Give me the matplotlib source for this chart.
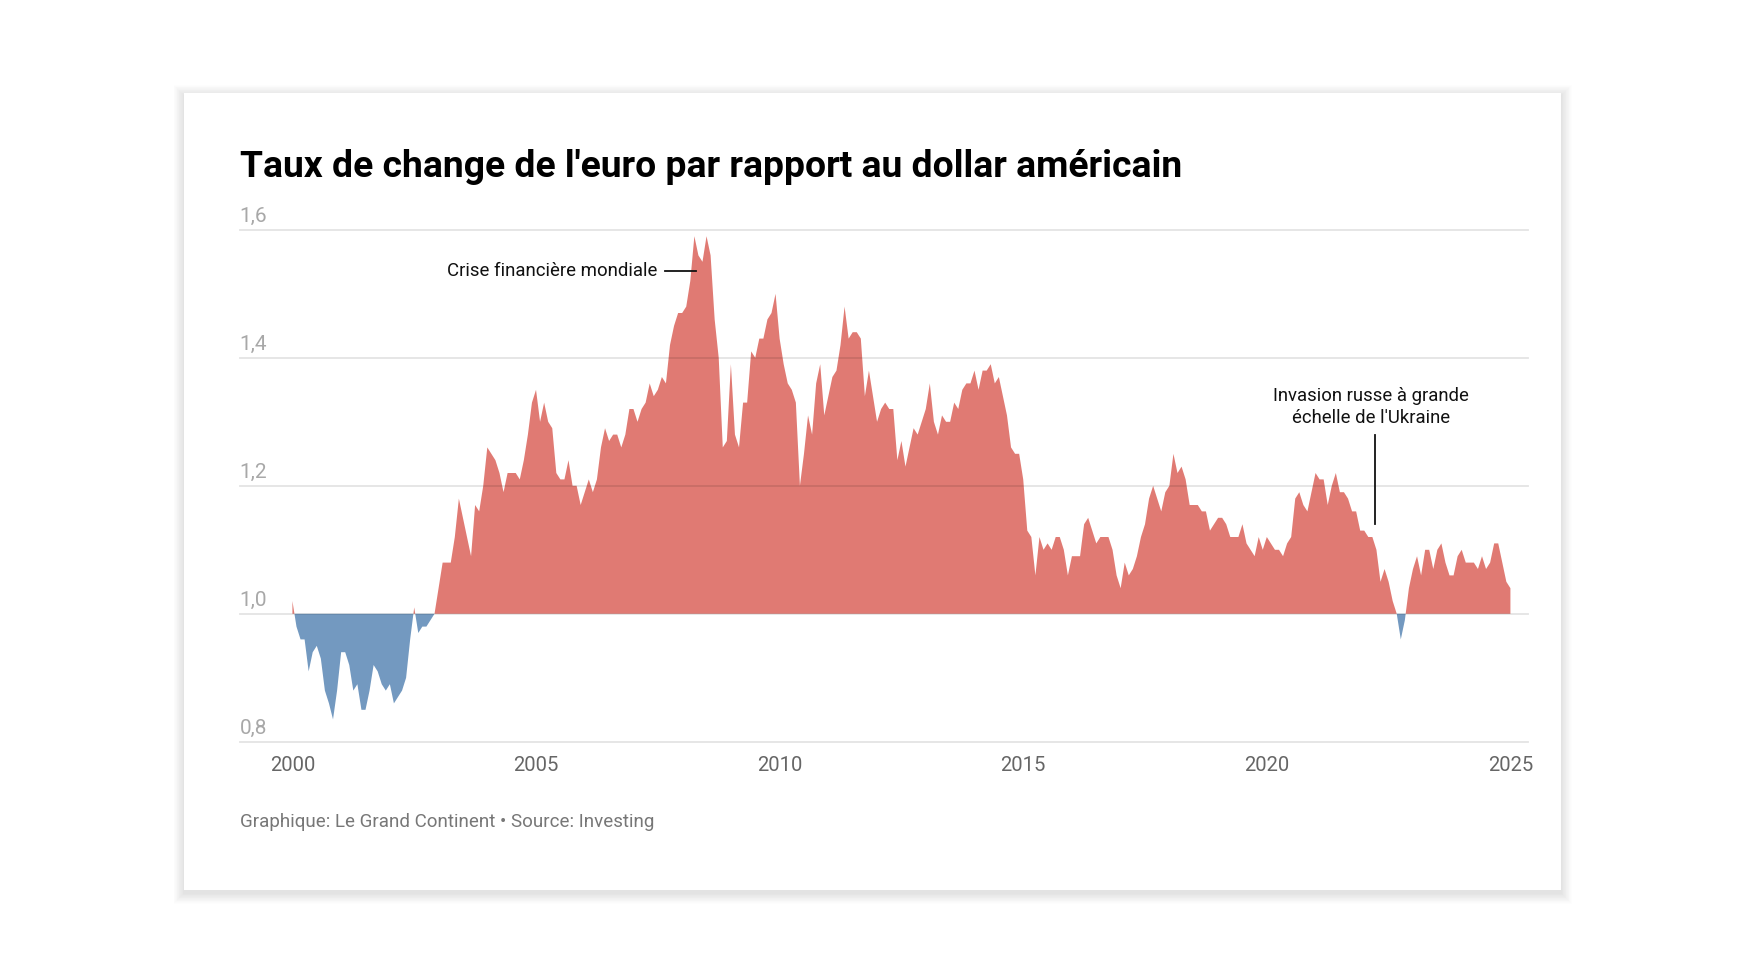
import numpy as np
import matplotlib.pyplot as plt
from matplotlib.patches import Rectangle

# Taux de change EUR/USD, valeur en début de mois (janv. 2000 -> janv. 2025)
rate_2000 = [1.02, 0.98, 0.96, 0.96, 0.91, 0.94, 0.95, 0.93, 0.88, 0.86, 0.835, 0.88]
rate_2001 = [0.94, 0.94, 0.92, 0.88, 0.89, 0.85, 0.85, 0.88, 0.92, 0.91, 0.89, 0.88]
rate_2002 = [0.89, 0.86, 0.87, 0.88, 0.90, 0.96, 1.01, 0.97, 0.98, 0.98, 0.99, 1.00]
rate_2003 = [1.04, 1.08, 1.08, 1.08, 1.12, 1.18, 1.15, 1.12, 1.09, 1.17, 1.16, 1.20]
rate_2004 = [1.26, 1.25, 1.24, 1.22, 1.19, 1.22, 1.22, 1.22, 1.21, 1.24, 1.28, 1.33]
rate_2005 = [1.35, 1.30, 1.33, 1.30, 1.29, 1.22, 1.21, 1.21, 1.24, 1.20, 1.20, 1.17]
rate_2006 = [1.19, 1.21, 1.19, 1.21, 1.26, 1.29, 1.27, 1.28, 1.28, 1.26, 1.28, 1.32]
rate_2007 = [1.32, 1.30, 1.32, 1.33, 1.36, 1.34, 1.35, 1.37, 1.36, 1.42, 1.45, 1.47]
rate_2008 = [1.47, 1.48, 1.52, 1.59, 1.56, 1.55, 1.59, 1.56, 1.46, 1.40, 1.26, 1.27]
rate_2009 = [1.39, 1.28, 1.26, 1.33, 1.33, 1.41, 1.40, 1.43, 1.43, 1.46, 1.47, 1.50]
rate_2010 = [1.43, 1.39, 1.36, 1.35, 1.33, 1.20, 1.25, 1.31, 1.28, 1.36, 1.39, 1.31]
rate_2011 = [1.34, 1.37, 1.38, 1.42, 1.48, 1.43, 1.44, 1.44, 1.43, 1.34, 1.38, 1.34]
rate_2012 = [1.30, 1.32, 1.33, 1.32, 1.32, 1.24, 1.27, 1.23, 1.26, 1.29, 1.28, 1.30]
rate_2013 = [1.32, 1.36, 1.30, 1.28, 1.31, 1.30, 1.30, 1.33, 1.32, 1.35, 1.36, 1.36]
rate_2014 = [1.38, 1.35, 1.38, 1.38, 1.39, 1.36, 1.37, 1.34, 1.31, 1.26, 1.25, 1.25]
rate_2015 = [1.21, 1.13, 1.12, 1.06, 1.12, 1.10, 1.11, 1.10, 1.12, 1.12, 1.10, 1.06]
rate_2016 = [1.09, 1.09, 1.09, 1.14, 1.15, 1.13, 1.11, 1.12, 1.12, 1.12, 1.10, 1.06]
rate_2017 = [1.04, 1.08, 1.06, 1.07, 1.09, 1.12, 1.14, 1.18, 1.20, 1.18, 1.16, 1.19]
rate_2018 = [1.20, 1.25, 1.22, 1.23, 1.21, 1.17, 1.17, 1.17, 1.16, 1.16, 1.13, 1.14]
rate_2019 = [1.15, 1.15, 1.14, 1.12, 1.12, 1.12, 1.14, 1.11, 1.10, 1.09, 1.12, 1.10]
rate_2020 = [1.12, 1.11, 1.10, 1.10, 1.09, 1.11, 1.12, 1.18, 1.19, 1.17, 1.16, 1.19]
rate_2021 = [1.22, 1.21, 1.21, 1.17, 1.20, 1.22, 1.19, 1.19, 1.18, 1.16, 1.16, 1.13]
rate_2022 = [1.13, 1.12, 1.12, 1.10, 1.05, 1.07, 1.05, 1.02, 1.00, 0.96, 0.99, 1.04]
rate_2023 = [1.07, 1.09, 1.06, 1.10, 1.10, 1.07, 1.10, 1.11, 1.08, 1.06, 1.06, 1.09]
rate_2024 = [1.10, 1.08, 1.08, 1.08, 1.07, 1.09, 1.07, 1.08, 1.11, 1.11, 1.08, 1.05]
rate_2025 = [1.04]

year_ticks = [2000, 2005, 2010, 2015, 2020, 2025]
y_ticks = [0.8, 1.0, 1.2, 1.4, 1.6]
y_labels = ["0,8", "1,0", "1,2", "1,4", "1,6"]

title = "Taux de change de l'euro par rapport au dollar américain"
footer = "Graphique: Le Grand Continent \u2022 Source: Investing"

rates = np.array(rate_2000 + rate_2001 + rate_2002 + rate_2003 + rate_2004 + rate_2005
                 + rate_2006 + rate_2007 + rate_2008 + rate_2009 + rate_2010 + rate_2011
                 + rate_2012 + rate_2013 + rate_2014 + rate_2015 + rate_2016 + rate_2017
                 + rate_2018 + rate_2019 + rate_2020 + rate_2021 + rate_2022 + rate_2023
                 + rate_2024 + rate_2025)
years = 2000 + np.arange(len(rates)) / 12.0

RED = "#e07a73"
BLUE = "#7399c0"

plt.rcParams["font.family"] = ["Roboto", "DejaVu Sans"]

fig = plt.figure(figsize=(17.48, 9.80), dpi=100)
fig.patch.set_facecolor("white")

# card + soft shadow (a bit heavier towards the bottom)
cx, cy, cw, ch = 184 / 1748, 1 - 890 / 980, (1561 - 184) / 1748, (890 - 92.6) / 980
for i in range(14, 0, -1):
    dx = i * 0.75 / 1748
    dy = i * 0.75 / 980
    fig.patches.append(Rectangle((cx - dx, cy - dy - 3 / 980), cw + 2 * dx, ch + 2 * dy,
                                 transform=fig.transFigure, facecolor="black",
                                 alpha=0.007, edgecolor="none", zorder=0))
fig.patches.append(Rectangle((cx, cy), cw, ch, transform=fig.transFigure,
                             facecolor="white", edgecolor="none", zorder=1))

ax = fig.add_axes([239.8 / 1748, 1 - 741.8 / 980, (1528.2 - 239.8) / 1748, (741.8 - 229.8) / 980])
ax.set_facecolor("none")
ax.set_zorder(2)

ax.fill_between(years, 1.0, rates, where=rates >= 1.0, interpolate=True,
                color=RED, linewidth=0, zorder=1)
ax.fill_between(years, 1.0, rates, where=rates < 1.0, interpolate=True,
                color=BLUE, linewidth=0, zorder=1)

for v in y_ticks:
    ax.axhline(v, color="black", alpha=0.11, linewidth=1.3, zorder=2, clip_on=False)

ax.set_xlim(1998.92, 2025.365)
ax.set_ylim(0.8, 1.6)
for s in ax.spines.values():
    s.set_visible(False)
ax.set_yticks([])
ax.set_xticks(year_ticks)
ax.set_xticklabels([str(y) for y in year_ticks])
ax.tick_params(axis="x", length=0, pad=10, labelsize=14.6, labelcolor="#666666")

for v, lab in zip(y_ticks, y_labels):
    ax.annotate(lab, xy=(1998.92, v), xytext=(0, 5.8), textcoords="offset points",
                ha="left", va="baseline", fontsize=15, color="#a8a8a8",
                annotation_clip=False)

# annotations
ax.text(2007.486, 1.528, "Crise financière mondiale", ha="right", va="baseline",
        fontsize=13.4, color="#111111")
ax.plot([2007.65, 2008.29], [1.536, 1.536], color="#111111", linewidth=1.3, zorder=3)

ax.text(2022.13, 1.333, "Invasion russe à grande", ha="center", va="baseline",
        fontsize=13.3, color="#111111")
ax.text(2022.13, 1.2986, "échelle de l'Ukraine", ha="center", va="baseline",
        fontsize=13.3, color="#111111")
ax.plot([2022.23, 2022.23], [1.279, 1.14], color="#111111", linewidth=1.3, zorder=3)

fig.text(239.8 / 1748, 1 - 176.7 / 980, title, ha="left", va="baseline",
         fontsize=26.8, fontweight="bold", color="black")
fig.text(239.8 / 1748, 1 - 827.3 / 980, footer, ha="left", va="baseline",
         fontsize=13.5, color="#777777")

fig.savefig("out.png", dpi=100, facecolor="white")
